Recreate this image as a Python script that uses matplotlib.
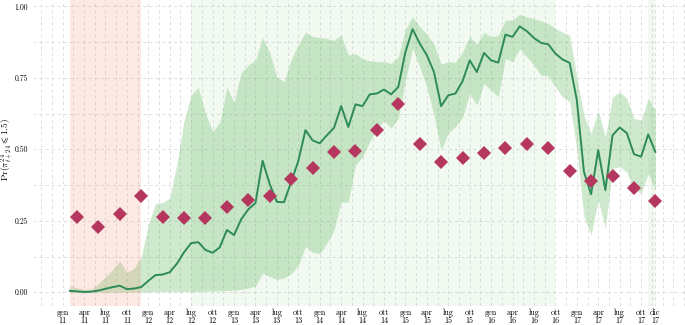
import numpy as np
import pandas as pd
import matplotlib
matplotlib.use("Agg")
import matplotlib.pyplot as plt

plt.rcParams["font.family"] = ["cmr10", "DejaVu Serif"]
plt.rcParams["mathtext.fontset"] = "cm"
plt.rcParams["axes.unicode_minus"] = False

# monthly probability (median) with band, Feb 2011 - Dec 2017
months = pd.date_range("2011-02-01", "2017-12-01", freq="MS")
prob_mid = [0.005, 0.003, 0.001, 0.002, 0.006, 0.012, 0.018, 0.023, 0.011, 0.013, 0.018,
            0.04, 0.06, 0.062, 0.07, 0.10, 0.14, 0.172, 0.175, 0.148, 0.138, 0.157, 0.218,
            0.20, 0.255, 0.29, 0.312, 0.46, 0.378, 0.316, 0.315, 0.386, 0.459, 0.567, 0.531,
            0.521, 0.549, 0.575, 0.651, 0.578, 0.657, 0.651, 0.692, 0.695, 0.709, 0.692, 0.718,
            0.84, 0.92, 0.87, 0.829, 0.77, 0.651, 0.689, 0.695, 0.738, 0.811, 0.77, 0.837,
            0.811, 0.803, 0.901, 0.893, 0.93, 0.913, 0.889, 0.872, 0.867, 0.835, 0.814, 0.802,
            0.672, 0.421, 0.343, 0.497, 0.357, 0.549, 0.576, 0.557, 0.483, 0.474, 0.552, 0.491]
prob_hi = [0.023, 0.015, 0.01, 0.01, 0.03, 0.055, 0.08, 0.109, 0.07, 0.084, 0.124,
           0.235, 0.311, 0.313, 0.33, 0.45, 0.60, 0.689, 0.717, 0.625, 0.562, 0.594, 0.717,
           0.664, 0.768, 0.794, 0.811, 0.891, 0.838, 0.752, 0.736, 0.814, 0.866, 0.91, 0.894,
           0.891, 0.887, 0.881, 0.899, 0.829, 0.835, 0.817, 0.809, 0.806, 0.806, 0.80, 0.823,
           0.92, 0.963, 0.929, 0.902, 0.867, 0.797, 0.806, 0.805, 0.84, 0.895, 0.867, 0.91,
           0.893, 0.899, 0.951, 0.953, 0.972, 0.963, 0.957, 0.949, 0.94, 0.922, 0.91, 0.899,
           0.753, 0.619, 0.555, 0.636, 0.543, 0.683, 0.701, 0.678, 0.608, 0.602, 0.678, 0.636]
prob_lo = [0.0, 0.0, 0.0, 0.0, 0.0, 0.0, 0.0, 0.0, 0.0, 0.0, 0.0,
           0.002, 0.002, 0.002, 0.002, 0.002, 0.002, 0.002, 0.003, 0.004, 0.005, 0.005, 0.006,
           0.007, 0.01, 0.015, 0.022, 0.068, 0.055, 0.045, 0.05, 0.065, 0.095, 0.16, 0.14,
           0.135, 0.171, 0.218, 0.316, 0.315, 0.445, 0.474, 0.526, 0.571, 0.601, 0.574, 0.607,
           0.741, 0.852, 0.788, 0.718, 0.619, 0.497, 0.558, 0.578, 0.613, 0.695, 0.654, 0.73,
           0.706, 0.683, 0.817, 0.806, 0.852, 0.823, 0.794, 0.759, 0.756, 0.718, 0.683, 0.666,
           0.497, 0.264, 0.20, 0.322, 0.223, 0.433, 0.439, 0.42, 0.362, 0.345, 0.415, 0.357]

# quarterly values (diamonds)
quarters = pd.date_range("2011-03-01", "2017-12-01", freq="3MS")
quarterly = [0.264, 0.229, 0.273, 0.336, 0.264, 0.26, 0.261, 0.299, 0.321, 0.336, 0.395,
             0.435, 0.491, 0.494, 0.569, 0.66, 0.518, 0.456, 0.469, 0.488, 0.505, 0.52,
             0.505, 0.424, 0.39, 0.407, 0.365, 0.32]

red_periods = [("2011-02-01", "2011-12-01")]
green_periods = [("2012-07-01", "2016-10-01"), ("2017-11-01", "2017-12-01")]

tick_dates = list(pd.date_range("2011-01-01", "2017-10-01", freq="QS")) + [pd.Timestamp("2017-12-01")]
MESI = {1: "gen", 4: "apr", 7: "lug", 10: "ott", 12: "dic"}


def midx(d):
    d = pd.Timestamp(d)
    return (d.year - 2011) * 12 + d.month - 1


x = np.array([midx(d) for d in months])
xq = np.array([midx(d) for d in quarters])

fig = plt.figure(figsize=(6.85, 3.25), dpi=100)
ax = fig.add_axes([0.0482, 0.0594, 0.9518, 0.9406])

ax.fill_between(x, prob_lo, prob_hi, color="#4daf4a", alpha=0.27, linewidth=0, zorder=1)
for a, b in red_periods:
    ax.axvspan(midx(a), midx(b), color="#f47c55", alpha=0.16, linewidth=0, zorder=2)
for a, b in green_periods:
    ax.axvspan(midx(a), midx(b), color="#7fc97f", alpha=0.1, linewidth=0, zorder=2)
ax.plot(x, prob_mid, color="#2e8b57", linewidth=1.4, zorder=3)
ax.plot(xq, quarterly, linestyle="none", marker="D", markersize=7, color="#b5375f",
        markeredgewidth=0, zorder=4)

# grid: major + minor, dashed
grid_kw = dict(color="#d6d6d6", linewidth=0.55, linestyle=(0, (4, 4)), zorder=0)
for gx in np.arange(-3, 88, 1.5):
    ax.axvline(gx, **grid_kw)
ax.axvline(83, **grid_kw)
for gy in np.arange(0, 1.01, 0.125):
    ax.axhline(gy, **grid_kw)

ax.set_xlim(-4.15, 87.15)
ax.set_ylim(-0.047, 1.022)
ax.set_xticks([midx(d) for d in tick_dates])
ax.set_xticklabels([f"{MESI[d.month]}\n{d.year % 100}" for d in tick_dates], fontsize=5.8,
                   linespacing=0.95)
ax.set_yticks([0, 0.25, 0.5, 0.75, 1.0])
ax.set_yticklabels(["0.00", "0.25", "0.50", "0.75", "1.00"], fontsize=5.5)
ax.tick_params(axis="x", length=0, pad=2)
ax.tick_params(axis="y", length=0, pad=3.5)
for s in ax.spines.values():
    s.set_visible(False)

fig.text(7.2 / 685, 1 - 150 / 325, r"$\Pr(\pi^{24}_{t+24} \leqslant 1.5)$", fontsize=6.8,
         rotation=90, ha="center", va="center")

fig.savefig("out.png", dpi=100)
